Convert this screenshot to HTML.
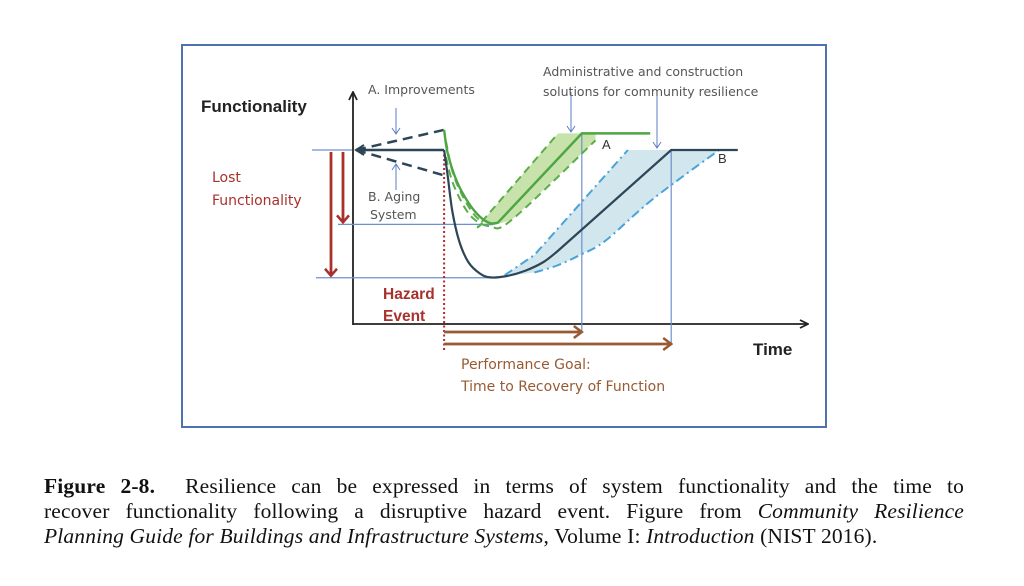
<!DOCTYPE html>
<html><head><meta charset="utf-8"><style>
html,body{margin:0;padding:0;background:#fff;width:1024px;height:586px;overflow:hidden}
svg{position:absolute;left:0;top:0}
.cap{position:absolute;left:44px;width:920px;font-family:"Liberation Serif",serif;font-size:21.5px;letter-spacing:0.15px;color:#111;line-height:25px;top:474px}
.cap div{text-align:justify;text-align-last:justify;white-space:nowrap}
.cap div.last{text-align-last:left}
</style></head><body>
<svg width="1024" height="460" id="chart">
<defs>
<marker id="ah" markerWidth="10" markerHeight="10" refX="9" refY="5" orient="auto" markerUnits="userSpaceOnUse"><path d="M1,1 L9,5 L1,9" fill="none" stroke="#222" stroke-width="1.8"/></marker>
<marker id="ahr" markerWidth="14" markerHeight="14" refX="12" refY="7" orient="auto" markerUnits="userSpaceOnUse"><path d="M5,1 L12,7 L5,13" fill="none" stroke="#a8312c" stroke-width="2.5"/></marker>
<marker id="ahb" markerWidth="14" markerHeight="14" refX="12" refY="7" orient="auto" markerUnits="userSpaceOnUse"><path d="M4,1 L12,7 L4,13" fill="none" stroke="#985a33" stroke-width="2.5"/></marker>
<marker id="ahs" markerWidth="10" markerHeight="10" refX="9" refY="5" orient="auto" markerUnits="userSpaceOnUse"><path d="M3,1 L9,5 L3,9" fill="none" stroke="#5b7ec4" stroke-width="1"/></marker>
<marker id="ahd" markerWidth="12" markerHeight="12" refX="10" refY="6" orient="auto" markerUnits="userSpaceOnUse"><path d="M2,1 L10,6 L2,11" fill="none" stroke="#2c4658" stroke-width="2"/></marker>
</defs>
<rect x="182" y="45" width="644" height="382" fill="#fff" stroke="#4d72b2" stroke-width="2"/>
<g id="g"></g>
<text x="201" y="112" font-family="Liberation Sans,sans-serif" font-weight="bold" font-size="17" fill="#222">Functionality</text>
<text x="753" y="355" font-family="Liberation Sans,sans-serif" font-weight="bold" font-size="17" fill="#222">Time</text>
<g font-family="DejaVu Sans,sans-serif" font-size="12.5" fill="#555">
<text x="368" y="94">A. Improvements</text>
<text x="368" y="201">B. Aging</text>
<text x="370" y="219">System</text>
<text x="543" y="76">Administrative and construction</text>
<text x="543" y="96">solutions for community resilience</text>
<text x="602" y="149" font-family="Liberation Sans,sans-serif" font-size="13" fill="#333">A</text>
<text x="718" y="163" font-family="Liberation Sans,sans-serif" font-size="13" fill="#333">B</text>
</g>
<g font-family="DejaVu Sans,sans-serif" font-size="14" fill="#a8312c">
<text x="212" y="182">Lost</text>
<text x="212" y="205">Functionality</text>
</g>
<g font-family="Liberation Sans,sans-serif" font-weight="bold" font-size="15.5" fill="#a8312c">
<text x="383" y="299">Hazard</text>
<text x="383" y="321">Event</text>
</g>
<g font-family="DejaVu Sans,sans-serif" font-size="14" fill="#985a33">
<text x="461" y="369">Performance Goal:</text>
<text x="461" y="391">Time to Recovery of Function</text>
</g>
</svg>
<div class="cap">
<div><b>Figure 2-8.</b>&nbsp; Resilience can be expressed in terms of system functionality and the time to</div>
<div>recover functionality following a disruptive hazard event. Figure from <i>Community Resilience</i></div>
<div class="last"><i>Planning Guide for Buildings and Infrastructure Systems</i>, Volume I: <i>Introduction</i> (NIST 2016).</div>
</div>
<script>
// time 0..100 -> x ; functionality 0..100 (100 = baseline)
const hazardT = 20.2;
const recoveryA = 50.4, recoveryB = 70.0;
const baseline = 100, improved = 111.5, aged = 85.5, minA = 57.5, minB = 27;
const curveA = [[20.2,111.5],[21,98],[23,82],[25.5,70],[28,62],[30.3,58.2],[32,58.5],[50.4,109.5],[65.4,109.5]];
const bandAUpper = [[28.8,60],[45.2,109.5]];
const bandALower = [[30.3,56.5],[35,60],[53.4,105.5]];
const curveB = [[20.2,100],[21,85],[22,65],[23.5,48],[25.5,36],[28,29.5],[30.3,27.2],[34,28],[38,31],[42,36],[45,42],[70,100],[84.6,100]];
const bandBUpper = [[33.5,28.5],[40,40],[60.5,100]];
const bandBLower = [[40,30],[45,34],[50,40],[55.5,48],[66,72],[80.5,100]];
const lostLevels = [minA, minB];

const X=t=>352+t*4.56, Y=f=>325-f*1.75;
const NS="http://www.w3.org/2000/svg", g=document.getElementById('g');
function el(tag,at){const e=document.createElementNS(NS,tag);for(const k in at)e.setAttribute(k,at[k]);g.appendChild(e);return e;}
const pts=a=>a.map(p=>X(p[0]).toFixed(1)+','+Y(p[1]).toFixed(1)).join(' ');
function smooth(a){let d='M'+X(a[0][0])+','+Y(a[0][1]);for(let i=1;i<a.length;i++){const p0=a[Math.max(i-2,0)],p1=a[i-1],p2=a[i],p3=a[Math.min(i+1,a.length-1)];const c1x=X(p1[0])+(X(p2[0])-X(p0[0]))/6,c1y=Y(p1[1])+(Y(p2[1])-Y(p0[1]))/6,c2x=X(p2[0])-(X(p3[0])-X(p1[0]))/6,c2y=Y(p2[1])-(Y(p3[1])-Y(p1[1]))/6;d+=` C${c1x},${c1y} ${c2x},${c2y} ${X(p2[0])},${Y(p2[1])}`;}return d;}

let e=el('polygon',{points:pts([[28.5,59.5],...bandAUpper,[53.4,109.5],...bandALower.slice().reverse()]),fill:'#b5d88f',opacity:'0.75'});


e=el('polygon',{points:pts([...bandBUpper,[80.5,100],...bandBLower.slice().reverse(),[33.5,28]]),fill:'#c9e2ea',opacity:'0.85'});



e=el('line',{x1:353,y1:325,x2:353,y2:92,stroke:'#222','stroke-width':1.8,'marker-end':'url(#ah)'});


e=el('line',{x1:353,y1:324,x2:808,y2:324,stroke:'#222','stroke-width':1.8,'marker-end':'url(#ah)'});



e=el('line',{x1:312,y1:Y(baseline),x2:352,y2:Y(baseline),stroke:'#6f8fcf','stroke-width':1.2});


e=el('line',{x1:338,y1:Y(minA),x2:X(31),y2:Y(minA),stroke:'#6f8fcf','stroke-width':1.2});


e=el('line',{x1:316,y1:Y(minB),x2:X(30.5),y2:Y(minB),stroke:'#6f8fcf','stroke-width':1.2});


e=el('line',{x1:X(recoveryA),y1:Y(109.5),x2:X(recoveryA),y2:332,stroke:'#6f8fcf','stroke-width':1.2});


e=el('line',{x1:X(recoveryB),y1:Y(baseline),x2:X(recoveryB),y2:345,stroke:'#6f8fcf','stroke-width':1.2});



e=el('line',{x1:343,y1:Y(baseline)+2,x2:343,y2:Y(lostLevels[0])-2,stroke:'#a8312c','stroke-width':2.8,'marker-end':'url(#ahr)'});


e=el('line',{x1:331,y1:Y(baseline)+2,x2:331,y2:Y(lostLevels[1])-2,stroke:'#a8312c','stroke-width':2.8,'marker-end':'url(#ahr)'});



e=el('line',{x1:X(hazardT),y1:Y(baseline),x2:356,y2:Y(baseline),stroke:'#2c4658','stroke-width':2.5,'marker-end':'url(#ahd)'});


e=el('line',{x1:356,y1:Y(baseline),x2:X(hazardT),y2:Y(improved),stroke:'#2c4658','stroke-width':2.5,'stroke-dasharray':'10,6'});


e=el('line',{x1:356,y1:Y(baseline),x2:X(hazardT),y2:Y(aged),stroke:'#2c4658','stroke-width':2.5,'stroke-dasharray':'10,6'});



e=el('line',{x1:X(hazardT),y1:Y(baseline),x2:X(hazardT),y2:350,stroke:'#b52a2a','stroke-width':2,'stroke-dasharray':'2,2.5'});



e=el('path',{d:smooth([[20.6,105],[22,88],[24,75],[26.5,64],[28.5,59],...bandAUpper]),fill:'none',stroke:'#5aae4a','stroke-width':2,'stroke-dasharray':'8,5'});


e=el('path',{d:smooth([[20.6,96],[22,82],[24.5,68],[27,60],[30.3,56.5],...bandALower.slice(1)]),fill:'none',stroke:'#5aae4a','stroke-width':2,'stroke-dasharray':'8,5'});


e=el('polyline',{points:pts(bandBUpper),fill:'none',stroke:'#4aa3d8','stroke-width':2,'stroke-dasharray':'9,4,2,4'});


e=el('path',{d:smooth(bandBLower),fill:'none',stroke:'#4aa3d8','stroke-width':2,'stroke-dasharray':'9,4,2,4'});



e=el('path',{d:smooth(curveB.slice(0,curveB.length-2))+` L${X(curveB[curveB.length-2][0])},${Y(curveB[curveB.length-2][1])} L${X(curveB[curveB.length-1][0])},${Y(curveB[curveB.length-1][1])}`,fill:'none',stroke:'#2c4658','stroke-width':2.2});


e=el('path',{d:smooth(curveA.slice(0,curveA.length-2))+` L${X(curveA[curveA.length-2][0])},${Y(curveA[curveA.length-2][1])} L${X(curveA[curveA.length-1][0])},${Y(curveA[curveA.length-1][1])}`,fill:'none',stroke:'#4da544','stroke-width':2.4});



[[396,108,396,134,'improvements-pointer'],[396,190,396,164,'aging-pointer'],[571,92,571,132,'solution-a-pointer'],[657,92,657,148,'solution-b-pointer']].forEach(a=>{
 const l=el('line',{x1:a[0],y1:a[1],x2:a[2],y2:a[3],stroke:'#5b7ec4','stroke-width':1,'marker-end':'url(#ahs)'});
 
 
});

e=el('line',{x1:X(hazardT),y1:332,x2:X(recoveryA),y2:332,stroke:'#985a33','stroke-width':2.8,'marker-end':'url(#ahb)'});


e=el('line',{x1:X(hazardT),y1:344,x2:X(recoveryB),y2:344,stroke:'#985a33','stroke-width':2.8,'marker-end':'url(#ahb)'});


</script>
</body></html>
